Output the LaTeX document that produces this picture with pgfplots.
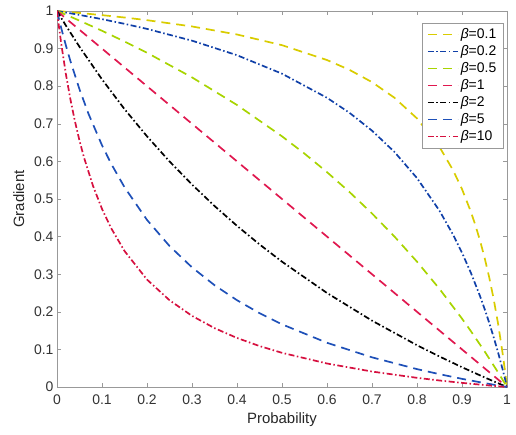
\documentclass[border=0pt]{standalone}
\usepackage{fontspec}
\setmainfont{Liberation Sans}
\usepackage{pgfplots}
\pgfplotsset{compat=1.18}
\definecolor{cyel}{RGB}{217,204,0}
\definecolor{cblu}{RGB}{16,64,168}
\definecolor{clim}{RGB}{168,212,0}
\definecolor{cred}{RGB}{224,24,79}
\definecolor{cblu2}{RGB}{30,80,184}
\definecolor{cred2}{RGB}{214,16,63}
\tikzset{
  mdash/.style={dash pattern=on 9bp off 6bp},
  mdashdot/.style={dash pattern=on 6bp off 2.5bp on 1.5bp off 2.5bp},
}
\begin{document}
\begin{tikzpicture}
\begin{axis}[
    name=ax,
    scale only axis,
    width=450bp, height=376bp,
    xmin=0, xmax=1, ymin=0, ymax=1,
    xtick={0,0.1,...,1}, ytick={0,0.1,...,1},
    tick align=inside,
    major tick length=4bp,
    axis line style={black!40},
    tick style={black!40},
    every tick label/.append style={font=\fontsize{14}{16}\selectfont, text=black!80},
    xticklabel style={yshift=-4bp},
    /pgf/number format/assume math mode=true,
    xlabel={Probability}, ylabel={Gradient},
    label style={font=\fontsize{15}{17}\selectfont, text=black!85},
    xlabel style={at={(axis description cs:0.5,-0.088)}, anchor=center},
    ylabel style={at={(axis description cs:-0.085,0.5)}, anchor=center},
    legend style={at={(axis description cs:0.991,0.968)}, anchor=north east,
        font=\fontsize{14}{16}\selectfont, draw=black!40, row sep=1.4bp,
        inner xsep=4.5bp, inner ysep=3.5bp},
    legend cell align=left,
    legend image code/.code={\draw[#1, line width=1.8bp] (0bp,0bp) -- (30bp,0bp);},
    every axis plot/.append style={line width=1.7bp},
]
\addplot[cyel, mdash] coordinates {
(0,1) (0.02,0.9980) (0.05,0.9948) (0.1,0.9890) (0.15,0.9827) (0.2,0.9756)
(0.3,0.9589) (0.4,0.9375) (0.5,0.9091) (0.6,0.8696) (0.65,0.8434) (0.7,0.8108)
(0.75,0.7692) (0.8,0.7143) (0.85,0.6383) (0.88,0.5769) (0.9,0.5263)
(0.92,0.4651) (0.93,0.4294) (0.94,0.3896) (0.95,0.3448) (0.96,0.2941)
(0.97,0.2362) (0.98,0.1695) (0.99,0.0917) (0.995,0.0478) (1,0)};
\addlegendentry{\textit{β}=0.1}
\addplot[cblu, mdashdot] coordinates {
(0,1) (0.02,0.9959) (0.05,0.9896) (0.1,0.9783) (0.15,0.9659) (0.2,0.9524)
(0.3,0.9211) (0.4,0.8824) (0.5,0.8333) (0.6,0.7692) (0.65,0.7292) (0.7,0.6818)
(0.75,0.625) (0.8,0.5556) (0.85,0.4688) (0.88,0.4054) (0.9,0.3571)
(0.92,0.3030) (0.94,0.2419) (0.95,0.2083) (0.96,0.1724) (0.97,0.1339)
(0.98,0.0926) (0.99,0.0481) (1,0)};
\addlegendentry{\textit{β}=0.2}
\addplot[clim, mdash] coordinates {
(0,1) (0.02,0.9899) (0.05,0.9744) (0.1,0.9474) (0.15,0.9189) (0.2,0.8889)
(0.3,0.8235) (0.4,0.75) (0.5,0.6667) (0.55,0.6207) (0.6,0.5714) (0.65,0.5185)
(0.7,0.4615) (0.75,0.4) (0.8,0.3333) (0.85,0.2609) (0.9,0.1818) (0.92,0.1481)
(0.95,0.0952) (0.98,0.0392) (1,0)};
\addlegendentry{\textit{β}=0.5}
\addplot[cred, mdash] coordinates {(0,1) (0.5,0.5) (1,0)};
\addlegendentry{\textit{β}=1}
\addplot[black, mdashdot] coordinates {
(0,1) (0.02,0.9608) (0.05,0.9048) (0.1,0.8182) (0.15,0.7391) (0.2,0.6667)
(0.25,0.6) (0.3,0.5385) (0.35,0.4815) (0.4,0.4286) (0.45,0.3793) (0.5,0.3333)
(0.6,0.25) (0.7,0.1765) (0.8,0.1111) (0.85,0.0811) (0.9,0.0526)
(0.95,0.0256) (0.98,0.0101) (1,0)};
\addlegendentry{\textit{β}=2}
\addplot[cblu2, mdash] coordinates {
(0,1) (0.01,0.9519) (0.02,0.9074) (0.03,0.8661) (0.05,0.7917) (0.07,0.7266)
(0.1,0.6429) (0.12,0.5946) (0.15,0.5313) (0.2,0.4444) (0.25,0.375)
(0.3,0.3182) (0.35,0.2708) (0.4,0.2308) (0.45,0.1964) (0.5,0.1667)
(0.6,0.1176) (0.7,0.0789) (0.8,0.0476) (0.85,0.0341) (0.9,0.0217)
(0.95,0.0104) (0.98,0.0041) (1,0)};
\addlegendentry{\textit{β}=5}
\addplot[cred2, mdashdot] coordinates {
(0,1) (0.005,0.9522) (0.01,0.9083) (0.02,0.8305) (0.03,0.7638) (0.04,0.7059)
(0.05,0.6552) (0.06,0.6104) (0.08,0.5349) (0.1,0.4737) (0.12,0.4231)
(0.15,0.3617) (0.2,0.2857) (0.25,0.2308) (0.3,0.1892) (0.35,0.1566)
(0.4,0.1304) (0.45,0.1089) (0.5,0.0909) (0.6,0.0625) (0.7,0.0411)
(0.8,0.0244) (0.85,0.0173) (0.9,0.0110) (0.95,0.0052) (0.98,0.0020) (1,0)};
\addlegendentry{\textit{β}=10}
\end{axis}
\pgfresetboundingbox
\path ([shift={(-57bp,-48bp)}]ax.south west) rectangle ([shift={(9bp,11bp)}]ax.north east);
\end{tikzpicture}
\end{document}
